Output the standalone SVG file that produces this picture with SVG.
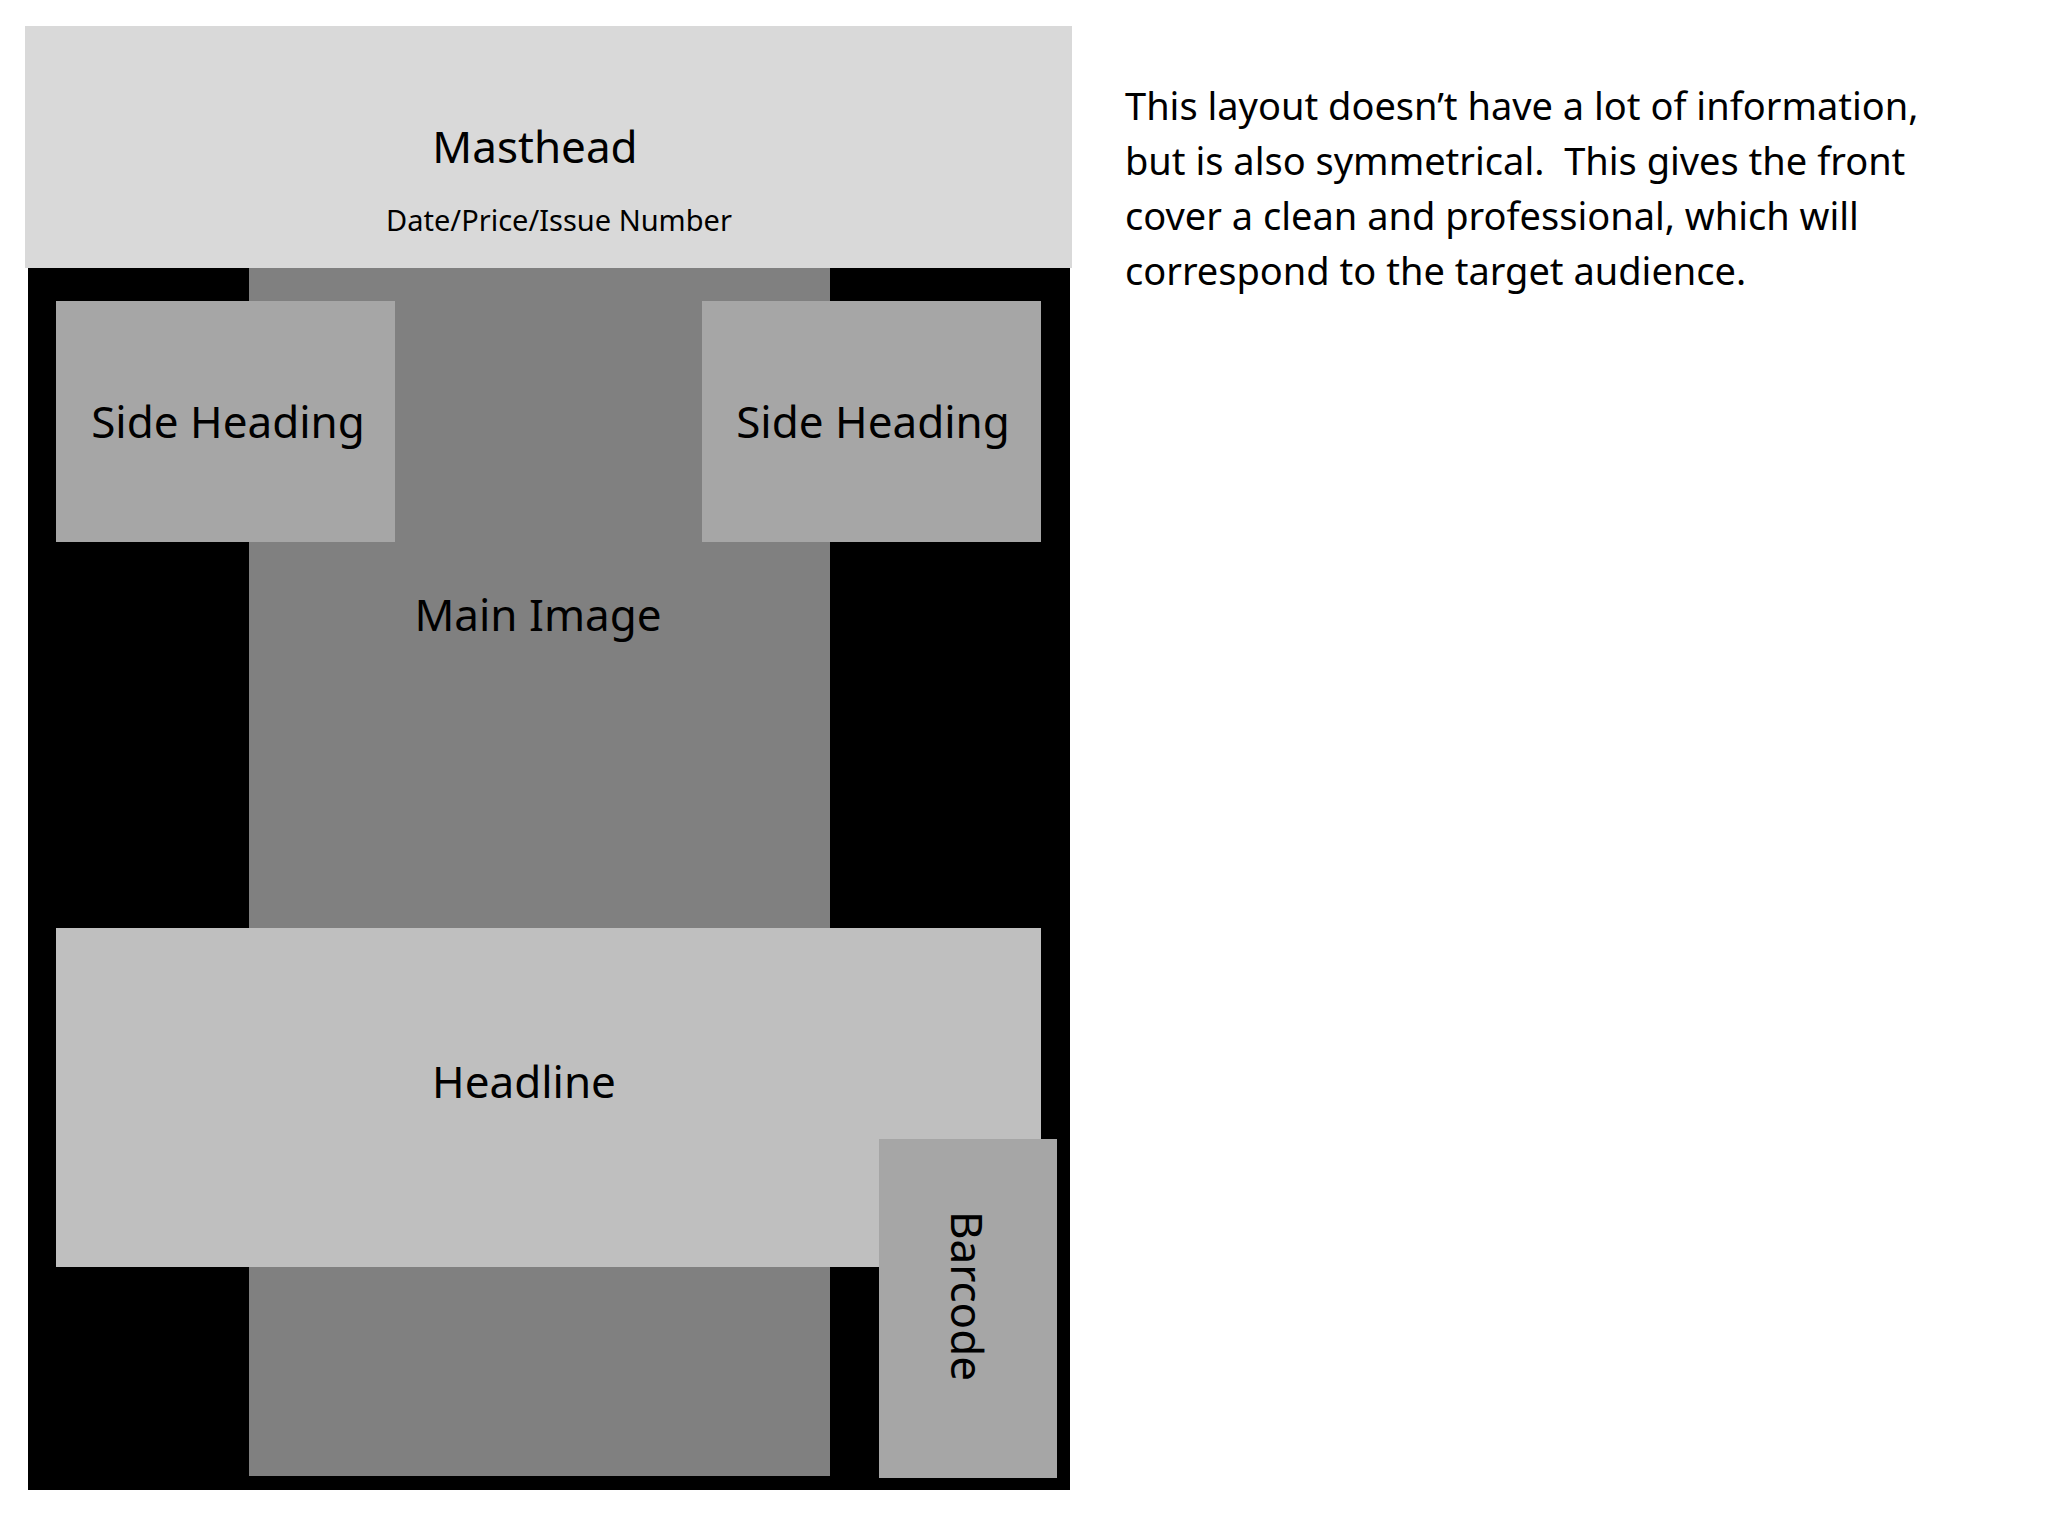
<svg xmlns="http://www.w3.org/2000/svg" width="2048" height="1536" viewBox="0 0 2048 1536">
<style>
text{font-family:"Noto Sans","Liberation Sans",sans-serif;fill:#000}
.c{text-anchor:middle}
.big{font-size:44px}
</style>
<rect width="2048" height="1536" fill="#fff"/>
<g id="masthead"><rect x="25" y="26" width="1047" height="242" fill="#d9d9d9"/>
<text class="c big" x="535" y="163">Masthead</text>
<text class="c" x="559" y="231" font-size="29">Date/Price/Issue Number</text></g>
<g id="cover"><rect x="28" y="268" width="1042" height="1222" fill="#000"/></g>
<g id="main-image"><rect x="249" y="268" width="581" height="1208" fill="#808080"/>
<text class="c big" x="538" y="631">Main Image</text></g>
<g id="side-left"><rect x="56" y="301" width="339" height="241" fill="#a6a6a6"/>
<text class="c big" x="228" y="438">Side Heading</text></g>
<g id="side-right"><rect x="702" y="301" width="339" height="241" fill="#a6a6a6"/>
<text class="c big" x="873" y="438">Side Heading</text></g>
<g id="headline"><rect x="56" y="928" width="985" height="339" fill="#bfbfbf"/>
<text class="c big" x="524" y="1098">Headline</text></g>
<g id="barcode"><rect x="879" y="1139" width="178" height="339" fill="#a6a6a6"/>
<text class="c big" transform="translate(966 1296) rotate(90)" x="0" y="15">Barcode</text></g>
<g id="note" font-size="38">
<text x="1125" y="120">This layout doesn’t have a lot of information,</text>
<text x="1125" y="175" xml:space="preserve">but is also symmetrical.  This gives the front</text>
<text x="1125" y="230">cover a clean and professional, which will</text>
<text x="1125" y="285">correspond to the target audience.</text>
</g>
<g id="connectors"/>
</svg>
